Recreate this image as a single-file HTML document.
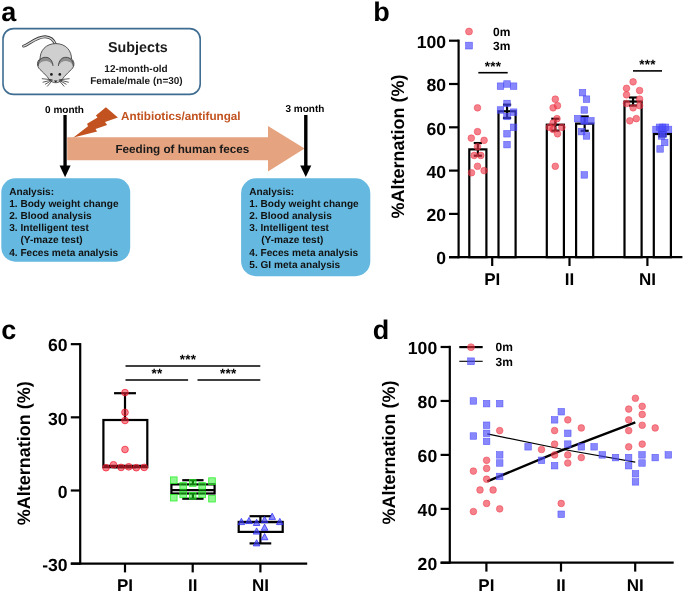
<!DOCTYPE html>
<html><head><meta charset="utf-8"><style>
html,body{margin:0;padding:0;background:#fff;}
svg{display:block;font-family:"Liberation Sans", sans-serif;will-change:transform;text-rendering:geometricPrecision;}
</style></head><body>
<svg width="685" height="594" viewBox="0 0 685 594">
<rect width="685" height="594" fill="#fff"/>
<text x="1.20" y="21.00" font-size="27" text-anchor="start" font-weight="bold" fill="#000" >a</text>
<rect x="3" y="28.6" width="197.2" height="65.8" rx="10.5" fill="#fff" stroke="#3f6d92" stroke-width="1.6"/>
<g stroke-linejoin="round" stroke-linecap="round">
<path d="M55.6,44.6 C53.8,40 50.4,37 45.2,36.8 C39.2,36.6 33.5,40.6 28,44 C26.4,45 24.8,45.8 23.6,46.1" fill="none" stroke="#3a3a3a" stroke-width="2.9"/>
<path d="M55.6,44.6 C53.8,40 50.4,37 45.2,36.8 C39.2,36.6 33.5,40.6 28,44 C26.4,45 24.8,45.8 23.6,46.1" fill="none" stroke="#d4d4d4" stroke-width="1.3"/>
<path d="M40.1,60 C39.4,50.5 46,43.6 55.8,43.6 C65.6,43.6 72.2,50.5 71.5,60 Z" fill="#cfcfcf" stroke="#333" stroke-width="0.8"/>
<path d="M40.3,58.4 C37.8,60 36.9,63.2 37.7,65.8 C38.2,67.5 39,68.6 40,69.5 C42.3,71.8 45,74 47,76.5 C48.8,78.8 50,80.6 51.5,81.5 C53,82.4 54.3,82.7 55.7,82.7 C57.1,82.7 58.4,82.4 59.9,81.5 C61.4,80.6 62.6,78.8 64.4,76.5 C66.4,74 69.1,71.8 71.4,69.5 C72.4,68.6 73.2,67.5 73.7,65.8 C74.5,63.2 73.6,60 71.1,58.4 Z" fill="#cfcfcf"/>
<path d="M40.3,58.4 C37.8,60 36.9,63.2 37.7,65.8 C38.2,67.5 39,68.6 40,69.5 C42.3,71.8 45,74 47,76.5 C48.8,78.8 50,80.6 51.5,81.5 C53,82.4 54.3,82.7 55.7,82.7 C57.1,82.7 58.4,82.4 59.9,81.5 C61.4,80.6 62.6,78.8 64.4,76.5 C66.4,74 69.1,71.8 71.4,69.5 C72.4,68.6 73.2,67.5 73.7,65.8 C74.5,63.2 73.6,60 71.1,58.4" fill="none" stroke="#333" stroke-width="0.8"/>
<path d="M38.2,65.6 C37.9,60.6 41.2,57.3 45.5,57.3 C49.8,57.3 52.6,60.6 53,65.6 C51.4,62.6 48.6,60.9 45.3,61 C42,61.1 39.6,63 38.2,65.6 Z" fill="#8e8e8e"/>
<path d="M73.2,65.6 C73.5,60.6 70.2,57.3 65.9,57.3 C61.6,57.3 58.8,60.6 58.4,65.6 C60,62.6 62.8,60.9 66.1,61 C69.4,61.1 71.8,63 73.2,65.6 Z" fill="#8e8e8e"/>
<path d="M38.2,65.6 C37.9,60.6 41.2,57.3 45.5,57.3 C49.8,57.3 52.6,60.6 53,65.6" fill="none" stroke="#333" stroke-width="0.8"/>
<path d="M73.2,65.6 C73.5,60.6 70.2,57.3 65.9,57.3 C61.6,57.3 58.8,60.6 58.4,65.6" fill="none" stroke="#333" stroke-width="0.8"/>
</g>
<circle cx="51.4" cy="74.4" r="1.35" fill="#1e1e1e"/><circle cx="59.8" cy="74.4" r="1.35" fill="#1e1e1e"/>
<ellipse cx="51.2" cy="80.2" rx="1.6" ry="1.1" fill="#666"/><ellipse cx="60.2" cy="80.2" rx="1.6" ry="1.1" fill="#666"/>
<path d="M53.8,80.4 L57.6,80.4 L55.7,82.6 Z" fill="#1e1e1e"/>
<g stroke="#333" stroke-width="0.8" fill="none" stroke-linecap="round">
<path d="M50.3,79.6 L42.2,78.7"/><path d="M50.3,80.4 L43,82.2"/><path d="M50.8,81 L45.3,84.2"/><path d="M51.6,81.4 L47.4,86.2"/>
<path d="M61.1,79.6 L69.2,78.7"/><path d="M61.1,80.4 L68.4,82.2"/><path d="M60.6,81 L66.1,84.2"/><path d="M59.8,81.4 L64,86.2"/>
</g>
<text x="137.80" y="51.60" font-size="14.3" text-anchor="middle" font-weight="bold" fill="#1a1a1a" >Subjects</text>
<text x="136.00" y="71.90" font-size="10" text-anchor="middle" font-weight="bold" fill="#1a1a1a" >12-month-old</text>
<text x="136.40" y="83.60" font-size="10" text-anchor="middle" font-weight="bold" fill="#1a1a1a" >Female/male (n=30)</text>
<text x="64.50" y="112.80" font-size="10" text-anchor="middle" font-weight="bold" fill="#000" >0 month</text>
<text x="304.90" y="112.10" font-size="10" text-anchor="middle" font-weight="bold" fill="#000" >3 month</text>
<polygon points="67.2,137.2 268,137.2 268,126 304.6,148.6 268,171.6 268,160.3 67.2,160.3" fill="#e5a37f"/>
<polygon points="73.4,137.6 88,126.3 87.1,123.8 97.5,117.5 95.9,115.6 105.9,107.3 117.9,117.6 105,122.1 107.1,125.1 95.5,129.1 97.1,131.5" fill="#c2521f"/>
<text x="121.10" y="119.80" font-size="11.7" text-anchor="start" font-weight="bold" fill="#c2521f" >Antibiotics/antifungal</text>
<text x="115.40" y="152.70" font-size="11.7" text-anchor="start" font-weight="bold" fill="#1a1a1a" >Feeding of human feces</text>
<rect x="63.4" y="115" width="3.3" height="51" fill="#000"/><polygon points="59.6,165.6 70.6,165.6 65.1,177.2" fill="#000"/>
<rect x="304.1" y="115" width="3.4" height="51" fill="#000"/><polygon points="300.2,165.4 311.3,165.4 305.8,177" fill="#000"/>
<rect x="1.3" y="178.3" width="128.9" height="83.4" rx="14" fill="#65b9e0"/>
<rect x="241.1" y="178.3" width="129.2" height="97.9" rx="15" fill="#65b9e0"/>
<text x="9.20" y="194.80" font-size="10.1" text-anchor="start" font-weight="bold" fill="#111" >Analysis:</text>
<text x="9.20" y="206.96" font-size="10.1" text-anchor="start" font-weight="bold" fill="#111" >1. Body weight change</text>
<text x="9.20" y="219.12" font-size="10.1" text-anchor="start" font-weight="bold" fill="#111" >2. Blood analysis</text>
<text x="9.20" y="231.28" font-size="10.1" text-anchor="start" font-weight="bold" fill="#111" >3. Intelligent test</text>
<text x="20.40" y="243.44" font-size="10.1" text-anchor="start" font-weight="bold" fill="#111" >(Y-maze test)</text>
<text x="9.20" y="255.60" font-size="10.1" text-anchor="start" font-weight="bold" fill="#111" >4. Feces meta analysis</text>
<text x="249.30" y="194.80" font-size="10.1" text-anchor="start" font-weight="bold" fill="#111" >Analysis:</text>
<text x="249.30" y="206.96" font-size="10.1" text-anchor="start" font-weight="bold" fill="#111" >1. Body weight change</text>
<text x="249.30" y="219.12" font-size="10.1" text-anchor="start" font-weight="bold" fill="#111" >2. Blood analysis</text>
<text x="249.30" y="231.28" font-size="10.1" text-anchor="start" font-weight="bold" fill="#111" >3. Intelligent test</text>
<text x="261.20" y="243.44" font-size="10.1" text-anchor="start" font-weight="bold" fill="#111" >(Y-maze test)</text>
<text x="249.30" y="255.60" font-size="10.1" text-anchor="start" font-weight="bold" fill="#111" >4. Feces meta analysis</text>
<text x="249.30" y="267.76" font-size="10.1" text-anchor="start" font-weight="bold" fill="#111" >5. GI meta analysis</text>
<text x="373.20" y="21.00" font-size="27" text-anchor="start" font-weight="bold" fill="#000" >b</text>
<line x1="458.60" y1="39.60" x2="458.60" y2="258.30" stroke="#000" stroke-width="2.2" stroke-linecap="butt"/>
<line x1="449.00" y1="257.20" x2="682.40" y2="257.20" stroke="#000" stroke-width="2.2" stroke-linecap="butt"/>
<line x1="449.00" y1="257.20" x2="458.60" y2="257.20" stroke="#000" stroke-width="2.2" stroke-linecap="butt"/>
<text x="446.00" y="264.40" font-size="17.6" text-anchor="end" font-weight="bold" fill="#000" >0</text>
<line x1="449.00" y1="213.90" x2="458.60" y2="213.90" stroke="#000" stroke-width="2.2" stroke-linecap="butt"/>
<text x="446.00" y="221.10" font-size="17.6" text-anchor="end" font-weight="bold" fill="#000" >20</text>
<line x1="449.00" y1="170.60" x2="458.60" y2="170.60" stroke="#000" stroke-width="2.2" stroke-linecap="butt"/>
<text x="446.00" y="177.80" font-size="17.6" text-anchor="end" font-weight="bold" fill="#000" >40</text>
<line x1="449.00" y1="127.30" x2="458.60" y2="127.30" stroke="#000" stroke-width="2.2" stroke-linecap="butt"/>
<text x="446.00" y="134.50" font-size="17.6" text-anchor="end" font-weight="bold" fill="#000" >60</text>
<line x1="449.00" y1="84.00" x2="458.60" y2="84.00" stroke="#000" stroke-width="2.2" stroke-linecap="butt"/>
<text x="446.00" y="91.20" font-size="17.6" text-anchor="end" font-weight="bold" fill="#000" >80</text>
<line x1="449.00" y1="40.70" x2="458.60" y2="40.70" stroke="#000" stroke-width="2.2" stroke-linecap="butt"/>
<text x="446.00" y="47.90" font-size="17.6" text-anchor="end" font-weight="bold" fill="#000" >100</text>
<line x1="492.20" y1="257.20" x2="492.20" y2="266.00" stroke="#000" stroke-width="2.2" stroke-linecap="butt"/>
<text x="492.20" y="285.20" font-size="17" text-anchor="middle" font-weight="bold" fill="#000" >PI</text>
<line x1="569.50" y1="257.20" x2="569.50" y2="266.00" stroke="#000" stroke-width="2.2" stroke-linecap="butt"/>
<text x="569.50" y="285.20" font-size="17" text-anchor="middle" font-weight="bold" fill="#000" >II</text>
<line x1="647.40" y1="257.20" x2="647.40" y2="266.00" stroke="#000" stroke-width="2.2" stroke-linecap="butt"/>
<text x="647.40" y="285.20" font-size="17" text-anchor="middle" font-weight="bold" fill="#000" >NI</text>
<text transform="translate(404.3,146.6) rotate(-90)" font-size="18" font-weight="bold" text-anchor="middle" fill="#000">%Alternation (%)</text>
<circle cx="469.00" cy="31.50" r="3.5" fill="rgba(238,52,68,0.62)" stroke="rgba(238,52,68,0.78)" stroke-width="0.6"/>
<rect x="465.60" y="42.20" width="6.8" height="6.8" fill="rgba(74,74,250,0.66)" stroke="rgba(74,74,250,0.85)" stroke-width="0.6"/>
<text x="493.00" y="36.20" font-size="12" text-anchor="start" font-weight="bold" fill="#000" >0m</text>
<text x="493.00" y="50.20" font-size="12" text-anchor="start" font-weight="bold" fill="#000" >3m</text>
<rect x="469.30" y="149.38" width="17.1" height="107.82" fill="none" stroke="#000" stroke-width="2.2"/>
<rect x="498.50" y="111.28" width="17.1" height="145.92" fill="none" stroke="#000" stroke-width="2.2"/>
<rect x="546.80" y="124.70" width="17.1" height="132.50" fill="none" stroke="#000" stroke-width="2.2"/>
<rect x="576.10" y="123.62" width="17.1" height="133.58" fill="none" stroke="#000" stroke-width="2.2"/>
<rect x="624.50" y="101.54" width="17.1" height="155.66" fill="none" stroke="#000" stroke-width="2.2"/>
<rect x="653.80" y="134.01" width="17.1" height="123.19" fill="none" stroke="#000" stroke-width="2.2"/>
<line x1="477.85" y1="143.05" x2="477.85" y2="155.71" stroke="#000" stroke-width="2.2" stroke-linecap="butt"/>
<line x1="473.75" y1="143.05" x2="481.95" y2="143.05" stroke="#000" stroke-width="2.2" stroke-linecap="butt"/>
<line x1="473.75" y1="155.71" x2="481.95" y2="155.71" stroke="#000" stroke-width="2.2" stroke-linecap="butt"/>
<line x1="507.05" y1="104.64" x2="507.05" y2="117.92" stroke="#000" stroke-width="2.2" stroke-linecap="butt"/>
<line x1="502.95" y1="104.64" x2="511.15" y2="104.64" stroke="#000" stroke-width="2.2" stroke-linecap="butt"/>
<line x1="502.95" y1="117.92" x2="511.15" y2="117.92" stroke="#000" stroke-width="2.2" stroke-linecap="butt"/>
<line x1="555.35" y1="118.76" x2="555.35" y2="130.65" stroke="#000" stroke-width="2.2" stroke-linecap="butt"/>
<line x1="551.25" y1="118.76" x2="559.45" y2="118.76" stroke="#000" stroke-width="2.2" stroke-linecap="butt"/>
<line x1="551.25" y1="130.65" x2="559.45" y2="130.65" stroke="#000" stroke-width="2.2" stroke-linecap="butt"/>
<line x1="584.65" y1="116.45" x2="584.65" y2="130.79" stroke="#000" stroke-width="2.2" stroke-linecap="butt"/>
<line x1="580.55" y1="116.45" x2="588.75" y2="116.45" stroke="#000" stroke-width="2.2" stroke-linecap="butt"/>
<line x1="580.55" y1="130.79" x2="588.75" y2="130.79" stroke="#000" stroke-width="2.2" stroke-linecap="butt"/>
<line x1="633.05" y1="97.51" x2="633.05" y2="105.56" stroke="#000" stroke-width="2.2" stroke-linecap="butt"/>
<line x1="628.95" y1="97.51" x2="637.15" y2="97.51" stroke="#000" stroke-width="2.2" stroke-linecap="butt"/>
<line x1="628.95" y1="105.56" x2="637.15" y2="105.56" stroke="#000" stroke-width="2.2" stroke-linecap="butt"/>
<line x1="662.35" y1="131.68" x2="662.35" y2="136.34" stroke="#000" stroke-width="2.2" stroke-linecap="butt"/>
<line x1="658.25" y1="131.68" x2="666.45" y2="131.68" stroke="#000" stroke-width="2.2" stroke-linecap="butt"/>
<line x1="658.25" y1="136.34" x2="666.45" y2="136.34" stroke="#000" stroke-width="2.2" stroke-linecap="butt"/>
<circle cx="477.50" cy="107.81" r="3.35" fill="rgba(238,52,68,0.62)" stroke="rgba(238,52,68,0.78)" stroke-width="0.6"/>
<circle cx="477.50" cy="131.63" r="3.35" fill="rgba(238,52,68,0.62)" stroke="rgba(238,52,68,0.78)" stroke-width="0.6"/>
<circle cx="471.30" cy="138.12" r="3.35" fill="rgba(238,52,68,0.62)" stroke="rgba(238,52,68,0.78)" stroke-width="0.6"/>
<circle cx="484.10" cy="140.29" r="3.35" fill="rgba(238,52,68,0.62)" stroke="rgba(238,52,68,0.78)" stroke-width="0.6"/>
<circle cx="477.50" cy="146.78" r="3.35" fill="rgba(238,52,68,0.62)" stroke="rgba(238,52,68,0.78)" stroke-width="0.6"/>
<circle cx="474.20" cy="155.44" r="3.35" fill="rgba(238,52,68,0.62)" stroke="rgba(238,52,68,0.78)" stroke-width="0.6"/>
<circle cx="480.80" cy="155.44" r="3.35" fill="rgba(238,52,68,0.62)" stroke="rgba(238,52,68,0.78)" stroke-width="0.6"/>
<circle cx="477.50" cy="166.27" r="3.35" fill="rgba(238,52,68,0.62)" stroke="rgba(238,52,68,0.78)" stroke-width="0.6"/>
<circle cx="471.50" cy="172.76" r="3.35" fill="rgba(238,52,68,0.62)" stroke="rgba(238,52,68,0.78)" stroke-width="0.6"/>
<circle cx="484.10" cy="170.60" r="3.35" fill="rgba(238,52,68,0.62)" stroke="rgba(238,52,68,0.78)" stroke-width="0.6"/>
<rect x="497.25" y="82.91" width="6.5" height="6.5" fill="rgba(74,74,250,0.66)" stroke="rgba(74,74,250,0.85)" stroke-width="0.6"/>
<rect x="503.75" y="80.75" width="6.5" height="6.5" fill="rgba(74,74,250,0.66)" stroke="rgba(74,74,250,0.85)" stroke-width="0.6"/>
<rect x="510.35" y="82.91" width="6.5" height="6.5" fill="rgba(74,74,250,0.66)" stroke="rgba(74,74,250,0.85)" stroke-width="0.6"/>
<rect x="503.75" y="100.23" width="6.5" height="6.5" fill="rgba(74,74,250,0.66)" stroke="rgba(74,74,250,0.85)" stroke-width="0.6"/>
<rect x="497.25" y="106.73" width="6.5" height="6.5" fill="rgba(74,74,250,0.66)" stroke="rgba(74,74,250,0.85)" stroke-width="0.6"/>
<rect x="510.35" y="108.89" width="6.5" height="6.5" fill="rgba(74,74,250,0.66)" stroke="rgba(74,74,250,0.85)" stroke-width="0.6"/>
<rect x="503.75" y="113.22" width="6.5" height="6.5" fill="rgba(74,74,250,0.66)" stroke="rgba(74,74,250,0.85)" stroke-width="0.6"/>
<rect x="510.35" y="124.05" width="6.5" height="6.5" fill="rgba(74,74,250,0.66)" stroke="rgba(74,74,250,0.85)" stroke-width="0.6"/>
<rect x="503.75" y="130.54" width="6.5" height="6.5" fill="rgba(74,74,250,0.66)" stroke="rgba(74,74,250,0.85)" stroke-width="0.6"/>
<rect x="503.75" y="141.37" width="6.5" height="6.5" fill="rgba(74,74,250,0.66)" stroke="rgba(74,74,250,0.85)" stroke-width="0.6"/>
<circle cx="555.30" cy="99.15" r="3.35" fill="rgba(238,52,68,0.62)" stroke="rgba(238,52,68,0.78)" stroke-width="0.6"/>
<circle cx="557.50" cy="105.65" r="3.35" fill="rgba(238,52,68,0.62)" stroke="rgba(238,52,68,0.78)" stroke-width="0.6"/>
<circle cx="553.10" cy="107.81" r="3.35" fill="rgba(238,52,68,0.62)" stroke="rgba(238,52,68,0.78)" stroke-width="0.6"/>
<circle cx="557.00" cy="118.64" r="3.35" fill="rgba(238,52,68,0.62)" stroke="rgba(238,52,68,0.78)" stroke-width="0.6"/>
<circle cx="553.10" cy="122.97" r="3.35" fill="rgba(238,52,68,0.62)" stroke="rgba(238,52,68,0.78)" stroke-width="0.6"/>
<circle cx="549.30" cy="127.30" r="3.35" fill="rgba(238,52,68,0.62)" stroke="rgba(238,52,68,0.78)" stroke-width="0.6"/>
<circle cx="561.90" cy="127.30" r="3.35" fill="rgba(238,52,68,0.62)" stroke="rgba(238,52,68,0.78)" stroke-width="0.6"/>
<circle cx="553.10" cy="129.46" r="3.35" fill="rgba(238,52,68,0.62)" stroke="rgba(238,52,68,0.78)" stroke-width="0.6"/>
<circle cx="557.50" cy="133.79" r="3.35" fill="rgba(238,52,68,0.62)" stroke="rgba(238,52,68,0.78)" stroke-width="0.6"/>
<circle cx="555.30" cy="166.27" r="3.35" fill="rgba(238,52,68,0.62)" stroke="rgba(238,52,68,0.78)" stroke-width="0.6"/>
<rect x="579.25" y="89.41" width="6.5" height="6.5" fill="rgba(74,74,250,0.66)" stroke="rgba(74,74,250,0.85)" stroke-width="0.6"/>
<rect x="583.25" y="95.90" width="6.5" height="6.5" fill="rgba(74,74,250,0.66)" stroke="rgba(74,74,250,0.85)" stroke-width="0.6"/>
<rect x="581.05" y="106.73" width="6.5" height="6.5" fill="rgba(74,74,250,0.66)" stroke="rgba(74,74,250,0.85)" stroke-width="0.6"/>
<rect x="574.45" y="115.39" width="6.5" height="6.5" fill="rgba(74,74,250,0.66)" stroke="rgba(74,74,250,0.85)" stroke-width="0.6"/>
<rect x="581.05" y="117.55" width="6.5" height="6.5" fill="rgba(74,74,250,0.66)" stroke="rgba(74,74,250,0.85)" stroke-width="0.6"/>
<rect x="587.65" y="117.55" width="6.5" height="6.5" fill="rgba(74,74,250,0.66)" stroke="rgba(74,74,250,0.85)" stroke-width="0.6"/>
<rect x="581.05" y="117.55" width="6.5" height="6.5" fill="rgba(74,74,250,0.66)" stroke="rgba(74,74,250,0.85)" stroke-width="0.6"/>
<rect x="578.35" y="128.38" width="6.5" height="6.5" fill="rgba(74,74,250,0.66)" stroke="rgba(74,74,250,0.85)" stroke-width="0.6"/>
<rect x="583.25" y="132.71" width="6.5" height="6.5" fill="rgba(74,74,250,0.66)" stroke="rgba(74,74,250,0.85)" stroke-width="0.6"/>
<rect x="581.05" y="171.68" width="6.5" height="6.5" fill="rgba(74,74,250,0.66)" stroke="rgba(74,74,250,0.85)" stroke-width="0.6"/>
<circle cx="633.10" cy="81.83" r="3.35" fill="rgba(238,52,68,0.62)" stroke="rgba(238,52,68,0.78)" stroke-width="0.6"/>
<circle cx="626.50" cy="88.33" r="3.35" fill="rgba(238,52,68,0.62)" stroke="rgba(238,52,68,0.78)" stroke-width="0.6"/>
<circle cx="639.60" cy="90.49" r="3.35" fill="rgba(238,52,68,0.62)" stroke="rgba(238,52,68,0.78)" stroke-width="0.6"/>
<circle cx="626.50" cy="94.82" r="3.35" fill="rgba(238,52,68,0.62)" stroke="rgba(238,52,68,0.78)" stroke-width="0.6"/>
<circle cx="639.60" cy="99.15" r="3.35" fill="rgba(238,52,68,0.62)" stroke="rgba(238,52,68,0.78)" stroke-width="0.6"/>
<circle cx="626.50" cy="103.48" r="3.35" fill="rgba(238,52,68,0.62)" stroke="rgba(238,52,68,0.78)" stroke-width="0.6"/>
<circle cx="633.10" cy="107.81" r="3.35" fill="rgba(238,52,68,0.62)" stroke="rgba(238,52,68,0.78)" stroke-width="0.6"/>
<circle cx="639.60" cy="105.65" r="3.35" fill="rgba(238,52,68,0.62)" stroke="rgba(238,52,68,0.78)" stroke-width="0.6"/>
<circle cx="629.80" cy="120.80" r="3.35" fill="rgba(238,52,68,0.62)" stroke="rgba(238,52,68,0.78)" stroke-width="0.6"/>
<circle cx="636.30" cy="118.64" r="3.35" fill="rgba(238,52,68,0.62)" stroke="rgba(238,52,68,0.78)" stroke-width="0.6"/>
<rect x="656.25" y="124.05" width="6.5" height="6.5" fill="rgba(74,74,250,0.66)" stroke="rgba(74,74,250,0.85)" stroke-width="0.6"/>
<rect x="662.25" y="124.05" width="6.5" height="6.5" fill="rgba(74,74,250,0.66)" stroke="rgba(74,74,250,0.85)" stroke-width="0.6"/>
<rect x="659.25" y="124.05" width="6.5" height="6.5" fill="rgba(74,74,250,0.66)" stroke="rgba(74,74,250,0.85)" stroke-width="0.6"/>
<rect x="652.75" y="126.21" width="6.5" height="6.5" fill="rgba(74,74,250,0.66)" stroke="rgba(74,74,250,0.85)" stroke-width="0.6"/>
<rect x="665.25" y="126.21" width="6.5" height="6.5" fill="rgba(74,74,250,0.66)" stroke="rgba(74,74,250,0.85)" stroke-width="0.6"/>
<rect x="658.75" y="126.21" width="6.5" height="6.5" fill="rgba(74,74,250,0.66)" stroke="rgba(74,74,250,0.85)" stroke-width="0.6"/>
<rect x="660.05" y="130.54" width="6.5" height="6.5" fill="rgba(74,74,250,0.66)" stroke="rgba(74,74,250,0.85)" stroke-width="0.6"/>
<rect x="658.25" y="132.71" width="6.5" height="6.5" fill="rgba(74,74,250,0.66)" stroke="rgba(74,74,250,0.85)" stroke-width="0.6"/>
<rect x="661.45" y="139.20" width="6.5" height="6.5" fill="rgba(74,74,250,0.66)" stroke="rgba(74,74,250,0.85)" stroke-width="0.6"/>
<rect x="656.85" y="145.70" width="6.5" height="6.5" fill="rgba(74,74,250,0.66)" stroke="rgba(74,74,250,0.85)" stroke-width="0.6"/>
<line x1="478.30" y1="72.70" x2="507.70" y2="72.70" stroke="#000" stroke-width="1.6" stroke-linecap="butt"/>
<text x="493.00" y="70.60" font-size="13.5" text-anchor="middle" font-weight="bold" fill="#000" letter-spacing="0.2">***</text>
<line x1="633.00" y1="70.90" x2="662.00" y2="70.90" stroke="#000" stroke-width="1.6" stroke-linecap="butt"/>
<text x="647.50" y="68.90" font-size="13.5" text-anchor="middle" font-weight="bold" fill="#000" letter-spacing="0.2">***</text>
<text x="1.20" y="339.20" font-size="27" text-anchor="start" font-weight="bold" fill="#000" >c</text>
<line x1="80.20" y1="343.10" x2="80.20" y2="564.60" stroke="#000" stroke-width="2.2" stroke-linecap="butt"/>
<line x1="70.80" y1="563.60" x2="307.20" y2="563.60" stroke="#000" stroke-width="2.2" stroke-linecap="butt"/>
<line x1="70.80" y1="344.16" x2="80.20" y2="344.16" stroke="#000" stroke-width="2.2" stroke-linecap="butt"/>
<text x="67.60" y="351.36" font-size="17.6" text-anchor="end" font-weight="bold" fill="#000" >60</text>
<line x1="70.80" y1="417.33" x2="80.20" y2="417.33" stroke="#000" stroke-width="2.2" stroke-linecap="butt"/>
<text x="67.60" y="424.53" font-size="17.6" text-anchor="end" font-weight="bold" fill="#000" >30</text>
<line x1="70.80" y1="490.50" x2="80.20" y2="490.50" stroke="#000" stroke-width="2.2" stroke-linecap="butt"/>
<text x="67.60" y="497.70" font-size="17.6" text-anchor="end" font-weight="bold" fill="#000" >0</text>
<line x1="70.80" y1="563.67" x2="80.20" y2="563.67" stroke="#000" stroke-width="2.2" stroke-linecap="butt"/>
<text x="67.60" y="570.87" font-size="17.6" text-anchor="end" font-weight="bold" fill="#000" >-30</text>
<line x1="125.00" y1="563.60" x2="125.00" y2="572.40" stroke="#000" stroke-width="2.2" stroke-linecap="butt"/>
<text x="125.00" y="591.40" font-size="17" text-anchor="middle" font-weight="bold" fill="#000" >PI</text>
<line x1="192.70" y1="563.60" x2="192.70" y2="572.40" stroke="#000" stroke-width="2.2" stroke-linecap="butt"/>
<text x="192.70" y="591.40" font-size="17" text-anchor="middle" font-weight="bold" fill="#000" >II</text>
<line x1="260.40" y1="563.60" x2="260.40" y2="572.40" stroke="#000" stroke-width="2.2" stroke-linecap="butt"/>
<text x="260.40" y="591.40" font-size="17" text-anchor="middle" font-weight="bold" fill="#000" >NI</text>
<text transform="translate(30.2,453.3) rotate(-90)" font-size="18" font-weight="bold" text-anchor="middle" fill="#000">%Alternation (%)</text>
<line x1="125.50" y1="366.00" x2="260.30" y2="366.00" stroke="#000" stroke-width="1.6" stroke-linecap="butt"/>
<text x="188.00" y="363.80" font-size="13.5" text-anchor="middle" font-weight="bold" fill="#000" letter-spacing="0.2">***</text>
<line x1="125.50" y1="380.00" x2="188.10" y2="380.00" stroke="#000" stroke-width="1.6" stroke-linecap="butt"/>
<text x="157.00" y="377.80" font-size="13.5" text-anchor="middle" font-weight="bold" fill="#000" letter-spacing="0.2">**</text>
<line x1="197.50" y1="380.00" x2="260.30" y2="380.00" stroke="#000" stroke-width="1.6" stroke-linecap="butt"/>
<text x="228.30" y="377.80" font-size="13.5" text-anchor="middle" font-weight="bold" fill="#000" letter-spacing="0.2">***</text>
<rect x="103.4" y="420" width="43.90" height="47.20" fill="none" stroke="#000" stroke-width="2.2"/>
<line x1="103.40" y1="465.90" x2="147.30" y2="465.90" stroke="#000" stroke-width="2.2" stroke-linecap="butt"/>
<line x1="125.00" y1="393.20" x2="125.00" y2="420.00" stroke="#000" stroke-width="2.2" stroke-linecap="butt"/>
<line x1="125.00" y1="467.20" x2="125.00" y2="467.20" stroke="#000" stroke-width="2.2" stroke-linecap="butt"/>
<line x1="114.05" y1="393.20" x2="135.95" y2="393.20" stroke="#000" stroke-width="2.2" stroke-linecap="butt"/>
<line x1="114.05" y1="467.20" x2="135.95" y2="467.20" stroke="#000" stroke-width="2.2" stroke-linecap="butt"/>
<circle cx="125" cy="392.6" r="3.35" fill="rgba(245,40,60,0.55)" stroke="rgba(240,25,45,0.9)" stroke-width="0.8"/>
<circle cx="125" cy="412.4" r="3.35" fill="rgba(245,40,60,0.55)" stroke="rgba(240,25,45,0.9)" stroke-width="0.8"/>
<circle cx="125" cy="420.5" r="3.35" fill="rgba(245,40,60,0.55)" stroke="rgba(240,25,45,0.9)" stroke-width="0.8"/>
<circle cx="125" cy="449.5" r="3.35" fill="rgba(245,40,60,0.55)" stroke="rgba(240,25,45,0.9)" stroke-width="0.8"/>
<circle cx="106" cy="467.7" r="3.35" fill="rgba(245,40,60,0.55)" stroke="rgba(240,25,45,0.9)" stroke-width="0.8"/>
<circle cx="113.5" cy="464.8" r="3.35" fill="rgba(245,40,60,0.55)" stroke="rgba(240,25,45,0.9)" stroke-width="0.8"/>
<circle cx="121.1" cy="467.4" r="3.35" fill="rgba(245,40,60,0.55)" stroke="rgba(240,25,45,0.9)" stroke-width="0.8"/>
<circle cx="128.7" cy="466.8" r="3.35" fill="rgba(245,40,60,0.55)" stroke="rgba(240,25,45,0.9)" stroke-width="0.8"/>
<circle cx="136.3" cy="467.7" r="3.35" fill="rgba(245,40,60,0.55)" stroke="rgba(240,25,45,0.9)" stroke-width="0.8"/>
<circle cx="144.2" cy="467.4" r="3.35" fill="rgba(245,40,60,0.55)" stroke="rgba(240,25,45,0.9)" stroke-width="0.8"/>
<rect x="171.4" y="484.4" width="43.20" height="9.10" fill="none" stroke="#000" stroke-width="2.2"/>
<line x1="171.40" y1="490.10" x2="214.60" y2="490.10" stroke="#000" stroke-width="2.2" stroke-linecap="butt"/>
<line x1="192.90" y1="480.20" x2="192.90" y2="484.40" stroke="#000" stroke-width="2.2" stroke-linecap="butt"/>
<line x1="192.90" y1="493.50" x2="192.90" y2="498.70" stroke="#000" stroke-width="2.2" stroke-linecap="butt"/>
<line x1="182.25" y1="480.20" x2="203.55" y2="480.20" stroke="#000" stroke-width="2.2" stroke-linecap="butt"/>
<line x1="182.25" y1="498.70" x2="203.55" y2="498.70" stroke="#000" stroke-width="2.2" stroke-linecap="butt"/>
<rect x="170.50" y="476.90" width="6.6" height="6.6" fill="rgba(30,240,30,0.5)" stroke="rgba(40,240,40,0.95)" stroke-width="0.8"/>
<rect x="170.50" y="494.40" width="6.6" height="6.6" fill="rgba(30,240,30,0.5)" stroke="rgba(40,240,40,0.95)" stroke-width="0.8"/>
<rect x="179.90" y="482.60" width="6.6" height="6.6" fill="rgba(30,240,30,0.5)" stroke="rgba(40,240,40,0.95)" stroke-width="0.8"/>
<rect x="179.90" y="491.10" width="6.6" height="6.6" fill="rgba(30,240,30,0.5)" stroke="rgba(40,240,40,0.95)" stroke-width="0.8"/>
<rect x="189.40" y="479.70" width="6.6" height="6.6" fill="rgba(30,240,30,0.5)" stroke="rgba(40,240,40,0.95)" stroke-width="0.8"/>
<rect x="189.40" y="492.50" width="6.6" height="6.6" fill="rgba(30,240,30,0.5)" stroke="rgba(40,240,40,0.95)" stroke-width="0.8"/>
<rect x="198.90" y="482.60" width="6.6" height="6.6" fill="rgba(30,240,30,0.5)" stroke="rgba(40,240,40,0.95)" stroke-width="0.8"/>
<rect x="198.90" y="491.10" width="6.6" height="6.6" fill="rgba(30,240,30,0.5)" stroke="rgba(40,240,40,0.95)" stroke-width="0.8"/>
<rect x="208.70" y="477.80" width="6.6" height="6.6" fill="rgba(30,240,30,0.5)" stroke="rgba(40,240,40,0.95)" stroke-width="0.8"/>
<rect x="208.70" y="495.40" width="6.6" height="6.6" fill="rgba(30,240,30,0.5)" stroke="rgba(40,240,40,0.95)" stroke-width="0.8"/>
<rect x="238.7" y="521.9" width="44.00" height="10.00" fill="none" stroke="#000" stroke-width="2.2"/>
<line x1="238.70" y1="522.20" x2="282.70" y2="522.20" stroke="#000" stroke-width="2.2" stroke-linecap="butt"/>
<line x1="260.40" y1="516.20" x2="260.40" y2="521.90" stroke="#000" stroke-width="2.2" stroke-linecap="butt"/>
<line x1="260.40" y1="531.90" x2="260.40" y2="543.40" stroke="#000" stroke-width="2.2" stroke-linecap="butt"/>
<line x1="249.55" y1="516.20" x2="271.25" y2="516.20" stroke="#000" stroke-width="2.2" stroke-linecap="butt"/>
<line x1="249.55" y1="543.40" x2="271.25" y2="543.40" stroke="#000" stroke-width="2.2" stroke-linecap="butt"/>
<polygon points="241.40,518.38 244.70,524.58 238.10,524.58" fill="rgba(70,70,250,0.6)" stroke="rgba(40,40,250,0.95)" stroke-width="0.8"/>
<polygon points="249.00,517.38 252.30,523.58 245.70,523.58" fill="rgba(70,70,250,0.6)" stroke="rgba(40,40,250,0.95)" stroke-width="0.8"/>
<polygon points="256.60,519.28 259.90,525.48 253.30,525.48" fill="rgba(70,70,250,0.6)" stroke="rgba(40,40,250,0.95)" stroke-width="0.8"/>
<polygon points="264.60,516.48 267.90,522.68 261.30,522.68" fill="rgba(70,70,250,0.6)" stroke="rgba(40,40,250,0.95)" stroke-width="0.8"/>
<polygon points="272.20,513.18 275.50,519.38 268.90,519.38" fill="rgba(70,70,250,0.6)" stroke="rgba(40,40,250,0.95)" stroke-width="0.8"/>
<polygon points="279.80,518.38 283.10,524.58 276.50,524.58" fill="rgba(70,70,250,0.6)" stroke="rgba(40,40,250,0.95)" stroke-width="0.8"/>
<polygon points="264.60,524.08 267.90,530.28 261.30,530.28" fill="rgba(70,70,250,0.6)" stroke="rgba(40,40,250,0.95)" stroke-width="0.8"/>
<polygon points="256.60,527.88 259.90,534.08 253.30,534.08" fill="rgba(70,70,250,0.6)" stroke="rgba(40,40,250,0.95)" stroke-width="0.8"/>
<polygon points="264.60,533.58 267.90,539.78 261.30,539.78" fill="rgba(70,70,250,0.6)" stroke="rgba(40,40,250,0.95)" stroke-width="0.8"/>
<polygon points="256.60,539.68 259.90,545.88 253.30,545.88" fill="rgba(70,70,250,0.6)" stroke="rgba(40,40,250,0.95)" stroke-width="0.8"/>
<text x="372.80" y="338.60" font-size="27" text-anchor="start" font-weight="bold" fill="#000" >d</text>
<line x1="449.80" y1="345.80" x2="449.80" y2="563.60" stroke="#000" stroke-width="2.2" stroke-linecap="butt"/>
<line x1="440.60" y1="562.60" x2="673.70" y2="562.60" stroke="#000" stroke-width="2.2" stroke-linecap="butt"/>
<line x1="440.60" y1="347.00" x2="449.80" y2="347.00" stroke="#000" stroke-width="2.2" stroke-linecap="butt"/>
<text x="437.20" y="354.20" font-size="17.6" text-anchor="end" font-weight="bold" fill="#000" >100</text>
<line x1="440.60" y1="400.95" x2="449.80" y2="400.95" stroke="#000" stroke-width="2.2" stroke-linecap="butt"/>
<text x="437.20" y="408.15" font-size="17.6" text-anchor="end" font-weight="bold" fill="#000" >80</text>
<line x1="440.60" y1="454.90" x2="449.80" y2="454.90" stroke="#000" stroke-width="2.2" stroke-linecap="butt"/>
<text x="437.20" y="462.10" font-size="17.6" text-anchor="end" font-weight="bold" fill="#000" >60</text>
<line x1="440.60" y1="508.85" x2="449.80" y2="508.85" stroke="#000" stroke-width="2.2" stroke-linecap="butt"/>
<text x="437.20" y="516.05" font-size="17.6" text-anchor="end" font-weight="bold" fill="#000" >40</text>
<line x1="440.60" y1="562.80" x2="449.80" y2="562.80" stroke="#000" stroke-width="2.2" stroke-linecap="butt"/>
<text x="437.20" y="570.00" font-size="17.6" text-anchor="end" font-weight="bold" fill="#000" >20</text>
<line x1="486.40" y1="562.60" x2="486.40" y2="571.60" stroke="#000" stroke-width="2.2" stroke-linecap="butt"/>
<text x="486.40" y="591.00" font-size="17" text-anchor="middle" font-weight="bold" fill="#000" >PI</text>
<line x1="561.00" y1="562.60" x2="561.00" y2="571.60" stroke="#000" stroke-width="2.2" stroke-linecap="butt"/>
<text x="561.00" y="591.00" font-size="17" text-anchor="middle" font-weight="bold" fill="#000" >II</text>
<line x1="635.20" y1="562.60" x2="635.20" y2="571.60" stroke="#000" stroke-width="2.2" stroke-linecap="butt"/>
<text x="635.20" y="591.00" font-size="17" text-anchor="middle" font-weight="bold" fill="#000" >NI</text>
<text transform="translate(395.3,452.6) rotate(-90)" font-size="18" font-weight="bold" text-anchor="middle" fill="#000">%Alternation (%)</text>
<line x1="459.30" y1="347.10" x2="482.70" y2="347.10" stroke="#000" stroke-width="2.2" stroke-linecap="butt"/>
<circle cx="471.00" cy="347.20" r="3.5" fill="rgba(238,52,68,0.62)" stroke="rgba(238,52,68,0.78)" stroke-width="0.6"/>
<line x1="459.30" y1="361.30" x2="482.70" y2="361.30" stroke="#000" stroke-width="1.1" stroke-linecap="butt"/>
<rect x="467.60" y="357.90" width="6.8" height="6.8" fill="rgba(74,74,250,0.66)" stroke="rgba(74,74,250,0.85)" stroke-width="0.6"/>
<text x="495.50" y="351.30" font-size="12" text-anchor="start" font-weight="bold" fill="#000" >0m</text>
<text x="495.50" y="365.50" font-size="12" text-anchor="start" font-weight="bold" fill="#000" >3m</text>
<polyline points="487.30,433.86 561.00,448.97 635.30,462.18" fill="none" stroke="#000" stroke-width="1.2"/>
<polyline points="487.30,481.34 561.00,450.58 635.30,422.26" fill="none" stroke="#000" stroke-width="2.4"/>
<rect x="470.15" y="397.70" width="6.5" height="6.5" fill="rgba(74,74,250,0.66)" stroke="rgba(74,74,250,0.85)" stroke-width="0.6"/>
<rect x="483.35" y="400.40" width="6.5" height="6.5" fill="rgba(74,74,250,0.66)" stroke="rgba(74,74,250,0.85)" stroke-width="0.6"/>
<rect x="496.45" y="400.40" width="6.5" height="6.5" fill="rgba(74,74,250,0.66)" stroke="rgba(74,74,250,0.85)" stroke-width="0.6"/>
<rect x="483.35" y="421.98" width="6.5" height="6.5" fill="rgba(74,74,250,0.66)" stroke="rgba(74,74,250,0.85)" stroke-width="0.6"/>
<rect x="483.35" y="430.07" width="6.5" height="6.5" fill="rgba(74,74,250,0.66)" stroke="rgba(74,74,250,0.85)" stroke-width="0.6"/>
<rect x="470.15" y="432.77" width="6.5" height="6.5" fill="rgba(74,74,250,0.66)" stroke="rgba(74,74,250,0.85)" stroke-width="0.6"/>
<rect x="483.35" y="438.16" width="6.5" height="6.5" fill="rgba(74,74,250,0.66)" stroke="rgba(74,74,250,0.85)" stroke-width="0.6"/>
<rect x="496.45" y="451.65" width="6.5" height="6.5" fill="rgba(74,74,250,0.66)" stroke="rgba(74,74,250,0.85)" stroke-width="0.6"/>
<rect x="496.45" y="459.74" width="6.5" height="6.5" fill="rgba(74,74,250,0.66)" stroke="rgba(74,74,250,0.85)" stroke-width="0.6"/>
<rect x="496.45" y="473.23" width="6.5" height="6.5" fill="rgba(74,74,250,0.66)" stroke="rgba(74,74,250,0.85)" stroke-width="0.6"/>
<rect x="558.05" y="408.49" width="6.5" height="6.5" fill="rgba(74,74,250,0.66)" stroke="rgba(74,74,250,0.85)" stroke-width="0.6"/>
<rect x="551.35" y="416.58" width="6.5" height="6.5" fill="rgba(74,74,250,0.66)" stroke="rgba(74,74,250,0.85)" stroke-width="0.6"/>
<rect x="564.55" y="430.07" width="6.5" height="6.5" fill="rgba(74,74,250,0.66)" stroke="rgba(74,74,250,0.85)" stroke-width="0.6"/>
<rect x="564.55" y="440.86" width="6.5" height="6.5" fill="rgba(74,74,250,0.66)" stroke="rgba(74,74,250,0.85)" stroke-width="0.6"/>
<rect x="524.85" y="443.56" width="6.5" height="6.5" fill="rgba(74,74,250,0.66)" stroke="rgba(74,74,250,0.85)" stroke-width="0.6"/>
<rect x="578.05" y="443.56" width="6.5" height="6.5" fill="rgba(74,74,250,0.66)" stroke="rgba(74,74,250,0.85)" stroke-width="0.6"/>
<rect x="590.85" y="443.56" width="6.5" height="6.5" fill="rgba(74,74,250,0.66)" stroke="rgba(74,74,250,0.85)" stroke-width="0.6"/>
<rect x="538.25" y="457.04" width="6.5" height="6.5" fill="rgba(74,74,250,0.66)" stroke="rgba(74,74,250,0.85)" stroke-width="0.6"/>
<rect x="551.35" y="462.44" width="6.5" height="6.5" fill="rgba(74,74,250,0.66)" stroke="rgba(74,74,250,0.85)" stroke-width="0.6"/>
<rect x="557.95" y="511.00" width="6.5" height="6.5" fill="rgba(74,74,250,0.66)" stroke="rgba(74,74,250,0.85)" stroke-width="0.6"/>
<rect x="599.05" y="451.65" width="6.5" height="6.5" fill="rgba(74,74,250,0.66)" stroke="rgba(74,74,250,0.85)" stroke-width="0.6"/>
<rect x="612.25" y="454.35" width="6.5" height="6.5" fill="rgba(74,74,250,0.66)" stroke="rgba(74,74,250,0.85)" stroke-width="0.6"/>
<rect x="625.35" y="454.35" width="6.5" height="6.5" fill="rgba(74,74,250,0.66)" stroke="rgba(74,74,250,0.85)" stroke-width="0.6"/>
<rect x="625.35" y="462.44" width="6.5" height="6.5" fill="rgba(74,74,250,0.66)" stroke="rgba(74,74,250,0.85)" stroke-width="0.6"/>
<rect x="638.75" y="451.65" width="6.5" height="6.5" fill="rgba(74,74,250,0.66)" stroke="rgba(74,74,250,0.85)" stroke-width="0.6"/>
<rect x="638.75" y="459.74" width="6.5" height="6.5" fill="rgba(74,74,250,0.66)" stroke="rgba(74,74,250,0.85)" stroke-width="0.6"/>
<rect x="632.25" y="470.53" width="6.5" height="6.5" fill="rgba(74,74,250,0.66)" stroke="rgba(74,74,250,0.85)" stroke-width="0.6"/>
<rect x="632.25" y="478.62" width="6.5" height="6.5" fill="rgba(74,74,250,0.66)" stroke="rgba(74,74,250,0.85)" stroke-width="0.6"/>
<rect x="651.95" y="454.35" width="6.5" height="6.5" fill="rgba(74,74,250,0.66)" stroke="rgba(74,74,250,0.85)" stroke-width="0.6"/>
<rect x="665.05" y="451.65" width="6.5" height="6.5" fill="rgba(74,74,250,0.66)" stroke="rgba(74,74,250,0.85)" stroke-width="0.6"/>
<circle cx="499.70" cy="430.62" r="3.35" fill="rgba(238,52,68,0.62)" stroke="rgba(238,52,68,0.78)" stroke-width="0.6"/>
<circle cx="486.60" cy="460.29" r="3.35" fill="rgba(238,52,68,0.62)" stroke="rgba(238,52,68,0.78)" stroke-width="0.6"/>
<circle cx="486.60" cy="468.39" r="3.35" fill="rgba(238,52,68,0.62)" stroke="rgba(238,52,68,0.78)" stroke-width="0.6"/>
<circle cx="473.40" cy="471.08" r="3.35" fill="rgba(238,52,68,0.62)" stroke="rgba(238,52,68,0.78)" stroke-width="0.6"/>
<circle cx="486.60" cy="479.18" r="3.35" fill="rgba(238,52,68,0.62)" stroke="rgba(238,52,68,0.78)" stroke-width="0.6"/>
<circle cx="480.00" cy="489.97" r="3.35" fill="rgba(238,52,68,0.62)" stroke="rgba(238,52,68,0.78)" stroke-width="0.6"/>
<circle cx="493.10" cy="489.97" r="3.35" fill="rgba(238,52,68,0.62)" stroke="rgba(238,52,68,0.78)" stroke-width="0.6"/>
<circle cx="486.60" cy="503.45" r="3.35" fill="rgba(238,52,68,0.62)" stroke="rgba(238,52,68,0.78)" stroke-width="0.6"/>
<circle cx="473.40" cy="511.55" r="3.35" fill="rgba(238,52,68,0.62)" stroke="rgba(238,52,68,0.78)" stroke-width="0.6"/>
<circle cx="499.70" cy="508.85" r="3.35" fill="rgba(238,52,68,0.62)" stroke="rgba(238,52,68,0.78)" stroke-width="0.6"/>
<circle cx="567.80" cy="419.83" r="3.35" fill="rgba(238,52,68,0.62)" stroke="rgba(238,52,68,0.78)" stroke-width="0.6"/>
<circle cx="581.30" cy="427.92" r="3.35" fill="rgba(238,52,68,0.62)" stroke="rgba(238,52,68,0.78)" stroke-width="0.6"/>
<circle cx="554.60" cy="430.62" r="3.35" fill="rgba(238,52,68,0.62)" stroke="rgba(238,52,68,0.78)" stroke-width="0.6"/>
<circle cx="554.60" cy="444.11" r="3.35" fill="rgba(238,52,68,0.62)" stroke="rgba(238,52,68,0.78)" stroke-width="0.6"/>
<circle cx="541.50" cy="449.50" r="3.35" fill="rgba(238,52,68,0.62)" stroke="rgba(238,52,68,0.78)" stroke-width="0.6"/>
<circle cx="554.60" cy="454.90" r="3.35" fill="rgba(238,52,68,0.62)" stroke="rgba(238,52,68,0.78)" stroke-width="0.6"/>
<circle cx="567.80" cy="454.90" r="3.35" fill="rgba(238,52,68,0.62)" stroke="rgba(238,52,68,0.78)" stroke-width="0.6"/>
<circle cx="581.30" cy="457.60" r="3.35" fill="rgba(238,52,68,0.62)" stroke="rgba(238,52,68,0.78)" stroke-width="0.6"/>
<circle cx="567.80" cy="462.99" r="3.35" fill="rgba(238,52,68,0.62)" stroke="rgba(238,52,68,0.78)" stroke-width="0.6"/>
<circle cx="561.20" cy="503.45" r="3.35" fill="rgba(238,52,68,0.62)" stroke="rgba(238,52,68,0.78)" stroke-width="0.6"/>
<circle cx="635.40" cy="398.25" r="3.35" fill="rgba(238,52,68,0.62)" stroke="rgba(238,52,68,0.78)" stroke-width="0.6"/>
<circle cx="628.70" cy="409.04" r="3.35" fill="rgba(238,52,68,0.62)" stroke="rgba(238,52,68,0.78)" stroke-width="0.6"/>
<circle cx="642.20" cy="406.34" r="3.35" fill="rgba(238,52,68,0.62)" stroke="rgba(238,52,68,0.78)" stroke-width="0.6"/>
<circle cx="642.20" cy="414.44" r="3.35" fill="rgba(238,52,68,0.62)" stroke="rgba(238,52,68,0.78)" stroke-width="0.6"/>
<circle cx="628.70" cy="419.83" r="3.35" fill="rgba(238,52,68,0.62)" stroke="rgba(238,52,68,0.78)" stroke-width="0.6"/>
<circle cx="642.20" cy="425.23" r="3.35" fill="rgba(238,52,68,0.62)" stroke="rgba(238,52,68,0.78)" stroke-width="0.6"/>
<circle cx="628.70" cy="430.62" r="3.35" fill="rgba(238,52,68,0.62)" stroke="rgba(238,52,68,0.78)" stroke-width="0.6"/>
<circle cx="655.20" cy="427.92" r="3.35" fill="rgba(238,52,68,0.62)" stroke="rgba(238,52,68,0.78)" stroke-width="0.6"/>
<circle cx="628.70" cy="446.81" r="3.35" fill="rgba(238,52,68,0.62)" stroke="rgba(238,52,68,0.78)" stroke-width="0.6"/>
<circle cx="642.20" cy="444.11" r="3.35" fill="rgba(238,52,68,0.62)" stroke="rgba(238,52,68,0.78)" stroke-width="0.6"/>
</svg>
</body></html>
